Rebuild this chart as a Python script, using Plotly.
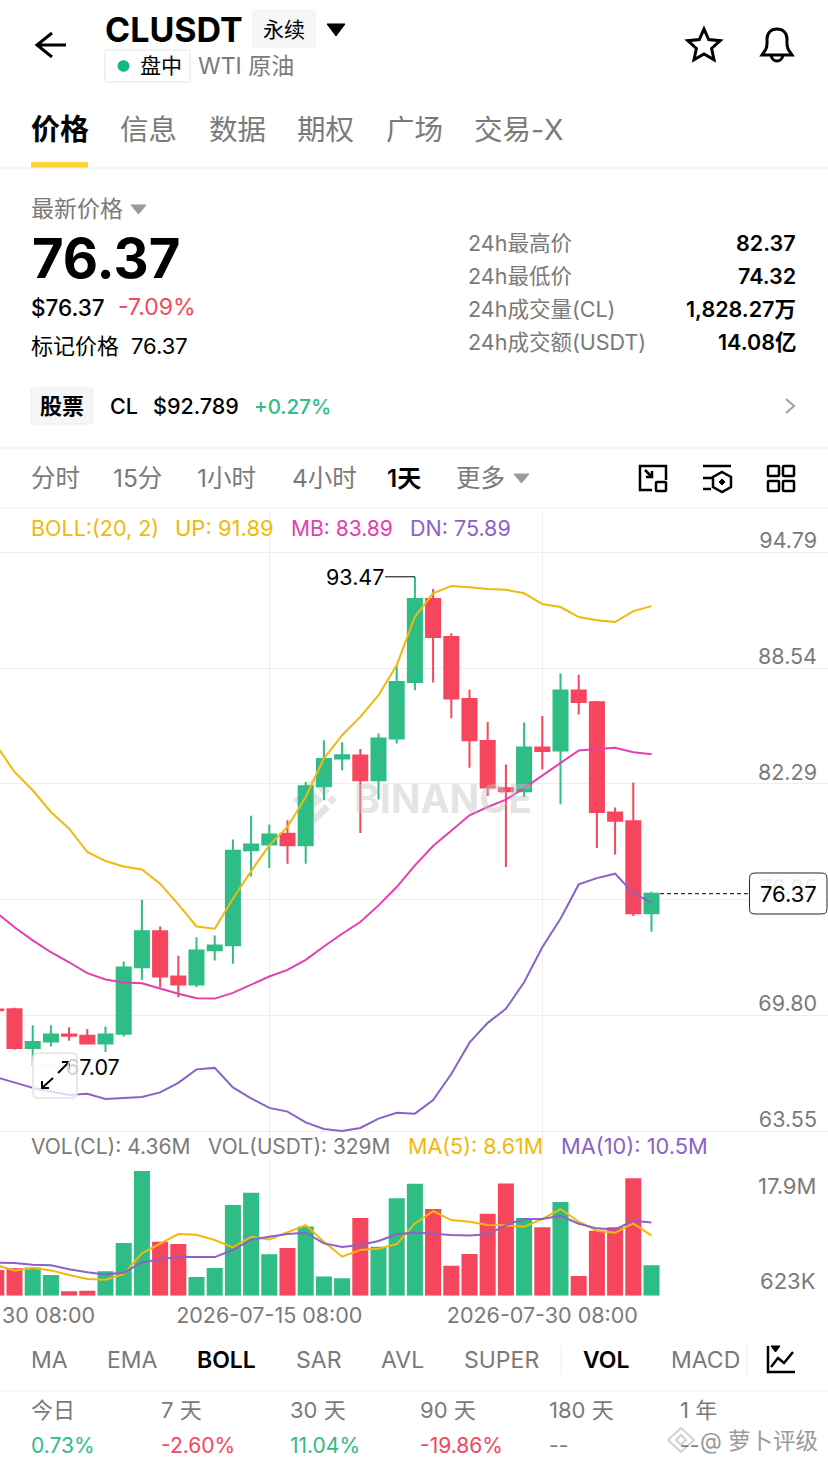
import re
import math
import pandas as pd
import plotly.graph_objects as go

W = 828
H = 1465
FONT = "Inter, 'Noto Sans CJK SC', sans-serif"
GREEN = "#2EBD85"
RED = "#F6465D"
YELLOW = "#F0B90B"
PINK = "#E33FAE"
PURPLE = "#8A62C8"
GRAY = "#7A7A7A"
LINE = "#EEEEEE"

dates = pd.date_range("2026-06-30 08:00", periods=37, freq="D")

opens = [70.12, 70.13, 68.05, 68.40, 68.77, 68.71, 68.28, 68.81, 72.40, 74.35, 71.90, 71.47, 73.32, 73.59, 78.71, 79.03,
         79.61, 78.99, 82.17, 83.66, 83.83, 82.49, 84.74, 87.79, 92.27, 90.22, 86.88, 84.61, 82.06, 81.90, 84.26, 84.10,
         87.34, 86.70, 80.75, 80.28, 75.32]
highs = [70.25, 70.21, 69.27, 69.27, 69.16, 69.07, 69.21, 72.71, 76.05, 74.60, 73.02, 74.02, 74.12, 79.30, 80.58, 80.10,
         80.33, 82.40, 84.65, 84.54, 84.18, 85.01, 88.70, 93.47, 92.81, 90.43, 87.39, 85.64, 83.34, 85.61, 85.96, 88.25,
         88.18, 86.77, 81.02, 82.37, 76.48]
lows = [69.95, 67.95, 67.07, 68.12, 68.44, 68.26, 67.83, 68.66, 71.72, 71.32, 70.78, 71.32, 72.77, 72.59, 77.30, 77.75,
        77.99, 77.99, 81.41, 83.03, 79.64, 81.45, 84.47, 87.35, 87.77, 85.84, 83.16, 81.64, 77.81, 81.59, 83.07, 81.19,
        86.04, 78.83, 78.49, 75.16, 74.32]
closes = [70.08, 68.05, 68.37, 68.77, 68.70, 68.28, 68.77, 72.39, 74.35, 71.90, 71.47, 73.31, 73.58, 78.69, 79.03, 79.57,
          78.99, 82.17, 83.64, 83.84, 82.49, 84.74, 87.79, 92.27, 90.22, 86.90, 84.65, 82.10, 81.90, 84.26, 84.07, 87.34,
          86.72, 80.78, 80.31, 75.32, 76.37]

boll_up = [84.38, 82.94, 81.95, 80.78, 79.88, 78.62, 78.13, 77.84, 77.68, 76.91, 75.79, 74.60, 74.48, 76.10, 77.59, 78.98,
           79.97, 81.59, 83.66, 84.92, 85.91, 87.08, 88.70, 91.31, 92.58, 92.97, 92.90, 92.81, 92.77, 92.58, 92.00, 91.84,
           91.30, 91.13, 91.03, 91.62, 91.89]
boll_mb = [75.36, 74.56, 73.85, 73.21, 72.67, 72.08, 71.74, 71.58, 71.54, 71.25, 70.97, 70.73, 70.71, 71.02, 71.47, 71.90,
           72.26, 72.80, 73.52, 74.21, 74.84, 75.74, 76.73, 77.90, 78.94, 79.78, 80.60, 81.05, 81.45, 82.07, 82.76, 83.45,
           84.10, 84.18, 84.24, 84.00, 83.89]
boll_dn = [66.47, 66.19, 65.89, 65.70, 65.51, 65.57, 65.29, 65.35, 65.40, 65.65, 66.16, 66.89, 66.97, 65.92, 65.33, 64.81,
           64.61, 64.03, 63.67, 63.57, 63.73, 64.23, 64.55, 64.50, 65.24, 66.64, 68.33, 69.40, 70.16, 71.59, 73.48, 75.02,
           76.87, 77.21, 77.45, 76.40, 75.89]

# volume in millions
volume = [3.68, 3.92, 4.06, 2.96, 0.623, 0.72, 3.49, 7.55, 17.9, 7.74, 7.41, 2.68, 3.97, 13.0, 14.77, 5.93,
          6.84, 9.94, 2.77, 2.49, 11.14, 7.03, 13.96, 16.06, 12.43, 4.30, 5.98, 11.76, 16.11, 11.14, 9.80, 13.43,
          2.82, 9.32, 9.80, 16.83, 4.36]
vol_ma5 = [4.40, 3.59, 3.97, 3.63, 2.96, 2.39, 2.29, 3.11, 6.07, 7.50, 8.84, 8.75, 7.98, 6.93, 8.46, 8.08,
           9.08, 10.13, 7.74, 5.59, 6.55, 6.74, 7.41, 10.37, 12.14, 10.85, 10.61, 10.13, 10.09, 9.89, 10.99, 12.43,
           10.61, 9.32, 9.03, 10.37, 8.61]
vol_ma10 = [4.73, 4.68, 4.45, 4.35, 3.78, 3.35, 3.06, 3.30, 4.78, 5.21, 5.59, 5.54, 5.54, 6.55, 8.03, 8.46,
            8.84, 9.03, 7.50, 6.98, 7.27, 7.84, 8.80, 9.08, 8.84, 8.70, 8.65, 8.80, 10.13, 10.99, 10.99, 11.47,
            10.32, 9.66, 9.51, 10.76, 10.5]

price_ticks = [94.79, 88.54, 82.29, 76.05, 69.80, 63.55]
price_labels = ["94.79", "88.54", "82.29", "76.05", "69.80", "63.55"]
date_ticks = ["2026-07-15 08:00", "2026-07-30 08:00"]
date_labels = ["2026-07-15 08:00", "2026-07-30 08:00"]

tabs = [("信息", 120), ("数据", 209), ("期权", 297), ("广场", 386), ("交易-X", 474)]
stats_left = [("24h最高价", 243, "82.37"), ("24h最低价", 276, "74.32"),
              ("24h成交量(CL)", 309, "1,828.27万"), ("24h成交额(USDT)", 342, "14.08亿")]
frames = [("分时", 31), ("15分", 113), ("1小时", 197), ("4小时", 292), ("更多", 456)]
indicators = [("MA", 31), ("EMA", 107), ("SAR", 296), ("AVL", 381), ("SUPER", 464), ("MACD", 671)]
periods = [("今日", "0.73%", GREEN, 31), ("7 天", "-2.60%", RED, 161), ("30 天", "11.04%", GREEN, 290),
           ("90 天", "-19.86%", RED, 420), ("180 天", "--", GRAY, 549), ("1 年", "--", GRAY, 680)]


def fx(x):
    return x / W


def fy(y):
    return 1 - y / H


def pth(d):
    # turn a pixel path into paper coordinates
    out = []
    is_x = True
    for tok in re.findall(r"[MLCZ]|-?[\d.]+", d):
        if tok in "MLCZ":
            out.append(tok)
            is_x = True
        else:
            out.append(f"{fx(float(tok)):.5f}" if is_x else f"{fy(float(tok)):.5f}")
            is_x = not is_x
    return " ".join(out)


def rrect(x0, y0, x1, y1, r):
    return (f"M {x0+r} {y0} L {x1-r} {y0} C {x1} {y0} {x1} {y0} {x1} {y0+r} L {x1} {y1-r} "
            f"C {x1} {y1} {x1} {y1} {x1-r} {y1} L {x0+r} {y1} C {x0} {y1} {x0} {y1} {x0} {y1-r} "
            f"L {x0} {y0+r} C {x0} {y0} {x0} {y0} {x0+r} {y0} Z")


shapes = []
annots = []


def draw(d, color="#000000", width=3, fill=None, layer="above"):
    shapes.append(dict(type="path", xref="paper", yref="paper", path=pth(d), layer=layer,
                       line=dict(color=color, width=width), fillcolor=fill))


def txt(s, x, y, size, color="#000000", anchor="left", weight=400):
    if anchor == "left":
        x = x - 1.5
    annots.append(dict(text=s, x=fx(x), y=fy(y), xref="paper", yref="paper",
                       xanchor=anchor, yanchor="middle", showarrow=False, borderpad=0,
                       font=dict(family=FONT, size=size, color=color, weight=weight)))


# header
draw("M 37 45 L 66 45 M 52 33 L 37 45 L 52 57")
txt("CLUSDT", 105, 29, 34, weight=700)
draw(rrect(253, 10, 315, 47, 5), color="#EFEFEF", width=1, fill="#F6F6F6")
txt("永续", 284, 29, 21, anchor="center")
draw("M 327 24 L 345 24 L 336 36 Z", width=1, fill="#000000")
draw(rrect(105, 50, 190, 82, 4), color="#E4E4E4", width=1, fill="#FFFFFF")
draw("M 118 66 C 118 59 129 59 129 66 C 129 73 118 73 118 66 Z", color="#10B981", width=1, fill="#10B981")
txt("盘中", 140, 66, 21)
txt("WTI 原油", 198, 66, 23, GRAY)
star = []
for i in range(10):
    r = 17 if i % 2 == 0 else 8
    a = -math.pi / 2 + i * math.pi / 5
    star.append(f"{'M' if i == 0 else 'L'} {704 + r * math.cos(a):.1f} {46 + r * math.sin(a):.1f}")
draw(" ".join(star) + " Z")
draw("M 764 52 C 768 48 767 42 767 39 C 767 33 771 29 777 29 C 783 29 787 33 787 39 C 787 42 786 48 790 52 "
     "L 792 55 L 762 55 Z M 771 55 C 772 63 782 63 783 55")

# tabs
txt("价格", 31, 129, 29, weight=600)
for s, x in tabs:
    txt(s, x, 129, 28.5, GRAY)
draw("M 31 162 L 88 162 L 88 168 L 31 168 Z", color="#FCD535", width=0, fill="#FCD535")
draw("M 0 168 L 828 168", color=LINE, width=1)

# price block
txt("最新价格", 31, 209, 23, GRAY)
draw("M 131 205 L 146 205 L 138.5 214 Z", color="#9A9A9A", width=1, fill="#9A9A9A")
txt("76.37", 32, 258, 54.5, weight=700)
txt("$76.37", 31, 307, 22.5, weight=500)
txt("-7.09%", 118, 307, 23, RED)
txt("标记价格", 31, 346, 22)
txt("76.37", 131, 346, 22)
for s, y, v in stats_left:
    txt(s, 468, y, 21.5, GRAY)
    txt(v, 796.5, y, 21.5, anchor="right", weight=600)
draw(rrect(31, 388, 93, 424, 4), color="#EFEFEF", width=1, fill="#F6F6F6")
txt("股票", 62, 406, 22, anchor="center", weight=600)
txt("CL", 110, 406, 21.5, weight=500)
txt("$92.789", 153, 406, 21.5, weight=500)
txt("+0.27%", 254, 406, 20.5, GREEN, weight=500)
draw("M 786 399 L 794 406 L 786 413", color="#A0A0A0", width=2)
draw("M 0 448 L 828 448", color=LINE, width=1)

# timeframe row
for s, x in frames:
    txt(s, x, 478, 24.5, GRAY)
txt("1天", 387, 478, 24, weight=600)
draw("M 514 474 L 529 474 L 521.5 483 Z", color="#9A9A9A", width=1, fill="#9A9A9A")
draw("M 652 490 L 640 490 L 640 466 L 666 466 L 666 480 M 645 470 L 652 477 M 652 471 L 652 477 L 646 477", width=2.5)
draw(rrect(656, 482, 666, 491, 1), width=2.5)
draw("M 703 466 L 731 466 M 703 478 L 712 478 M 703 489 L 711 489 M 722 472 L 731 477 L 731 487 L 722 492 "
     "L 713 487 L 713 477 Z", width=2.5)
draw("M 722 479 L 725 482 L 722 485 L 719 482 Z", width=1, fill="#000000")
for x0, y0 in [(768, 466), (783, 466), (768, 481), (783, 481)]:
    draw(rrect(x0, y0, x0 + 11, y0 + 10, 1), width=2.5)
draw("M 0 508 L 828 508", color=LINE, width=1)

# legends
txt("BOLL:(20, 2)", 31, 528, 21.5, YELLOW)
txt("UP: 91.89", 175, 528, 22, YELLOW)
txt("MB: 83.89", 291, 528, 21, PINK)
txt("DN: 75.89", 410, 528, 21.5, PURPLE)
txt("VOL(CL): 4.36M", 31, 1146, 21, GRAY)
txt("VOL(USDT): 329M", 208, 1146, 20.8, GRAY)
txt("MA(5): 8.61M", 408, 1146, 21.5, YELLOW)
txt("MA(10): 10.5M", 561, 1146, 21.8, PURPLE)

# watermark
draw("M 315 776 L 330 791 L 325 796 L 315 786 L 305 796 L 300 791 Z M 315 824 L 330 809 L 325 804 L 315 814 "
     "L 305 804 L 300 809 Z M 315 792 L 323 800 L 315 808 L 307 800 Z M 298 795 L 303 800 L 298 805 L 293 800 Z "
     "M 332 795 L 337 800 L 332 805 L 327 800 Z", color="#E4E4E4", width=0, fill="#E4E4E4", layer="below")
annots.append(dict(text="<b>BINANCE</b>", x=fx(443), y=fy(798), xref="paper", yref="paper", xanchor="center",
                   yanchor="middle", showarrow=False, font=dict(family=FONT, size=39, color="rgba(195,195,195,0.45)")))

# high / low markers
shapes.append(dict(type="line", xref="paper", yref="y", x0=fx(385), x1=fx(415), y0=93.47, y1=93.47,
                   line=dict(color="#000000", width=1)))
txt("93.47", 384.5, 577, 21.5, anchor="right")
shapes.append(dict(type="line", xref="paper", yref="y", x0=fx(33), x1=fx(62), y0=67.07, y1=67.07,
                   line=dict(color="#DDDDDD", width=1)))
draw(rrect(33, 1053, 77, 1098, 10), color="#E8E8E8", width=2, fill="rgba(255,255,255,0.75)")
txt('<span style="color:#CCCCCC">6</span>7.07', 121, 1067, 21.5, anchor="right")
draw("M 58 1073 L 69 1062 M 62 1062 L 69 1062 L 69 1069 M 53 1078 L 42 1088 M 49 1088 L 42 1088 L 42 1081", width=2)

# last price tag
shapes.append(dict(type="line", xref="paper", yref="y", x0=fx(660), x1=fx(749), y0=76.37, y1=76.37,
                   line=dict(color="#000000", width=1, dash="4px,3px")))
draw(rrect(749.5, 873, 827, 914, 10), color="#222222", width=1, fill="rgba(255,255,255,0.85)")
txt("76.37", 788.5, 894, 22, anchor="center")

# volume axis labels and clipped date label
annots.append(dict(text="17.9M", x=fx(818), y=17.9, xref="paper", yref="y2", yshift=-15, xanchor="right",
                   yanchor="middle", showarrow=False, font=dict(family=FONT, size=22, color=GRAY)))
annots.append(dict(text="623K", x=fx(818), y=0.623, xref="paper", yref="y2", yshift=10, xanchor="right",
                   yanchor="middle", showarrow=False, font=dict(family=FONT, size=22, color=GRAY)))
txt("30 08:00", 2, 1315, 21.5, GRAY)

# indicator row
for s, x in indicators:
    txt(s, x, 1360, 23, GRAY)
txt("BOLL", 197, 1360, 23, weight=600)
txt("VOL", 583, 1360, 23, weight=600)
draw("M 561 1345 L 561 1375", color=LINE, width=1)
draw("M 747 1345 L 747 1375", color=LINE, width=1)
draw("M 768 1346 L 768 1372 L 795 1372", width=2.5)
draw("M 771 1346 L 780 1346 L 775.5 1352 Z", width=1, fill="#000000")
draw("M 771 1367 L 778 1358 L 784 1363 L 793 1352", width=2.5)
draw("M 0 1391 L 828 1391", color=LINE, width=1)

# period stats
for name, val, col, x in periods:
    txt(name, x, 1410, 22, GRAY)
    txt(val, x, 1445, 21, col)
txt("@ 萝卜评级", 700, 1440, 22.5, "#9A9A9A")
draw("M 681 1428 L 694 1440 L 681 1452 L 668 1440 Z M 681 1435 L 686 1440 L 681 1445 L 676 1440 Z",
     color="#D0D0D0", width=2, fill="rgba(255,255,255,0.7)")

fig = go.Figure()
fig.add_trace(go.Candlestick(x=dates, open=opens, high=highs, low=lows, close=closes, xaxis="x", yaxis="y",
                             increasing=dict(line=dict(color=GREEN, width=2), fillcolor=GREEN),
                             decreasing=dict(line=dict(color=RED, width=2), fillcolor=RED),
                             whiskerwidth=0, hoverinfo="skip", showlegend=False))
for vals, col in [(boll_up, YELLOW), (boll_mb, PINK), (boll_dn, PURPLE)]:
    fig.add_trace(go.Scatter(x=dates, y=vals, mode="lines", line=dict(color=col, width=2), xaxis="x", yaxis="y",
                             hoverinfo="skip", showlegend=False))
bar_cols = [GREEN if c >= o else RED for o, c in zip(opens, closes)]
fig.add_trace(go.Bar(x=dates, y=volume, marker=dict(color=bar_cols, line=dict(width=0)), xaxis="x2", yaxis="y2",
                     hoverinfo="skip", showlegend=False))
for vals, col in [(vol_ma5, YELLOW), (vol_ma10, PURPLE)]:
    fig.add_trace(go.Scatter(x=dates, y=vals, mode="lines", line=dict(color=col, width=2), xaxis="x2", yaxis="y2",
                             hoverinfo="skip", showlegend=False))

day0 = pd.Timestamp("2026-07-15 08:00")
x_range = [day0 - pd.Timedelta(days=269.3 / 18.2), day0 + pd.Timedelta(days=(828 - 269.3) / 18.2)]
px_per_unit = 18.51

fig.update_layout(
    width=W, height=H, margin=dict(l=0, r=0, t=0, b=0), paper_bgcolor="#FFFFFF", plot_bgcolor="rgba(0,0,0,0)",
    font=dict(family=FONT), showlegend=False, bargap=0.12, boxgap=0.0, boxgroupgap=0.23,
    shapes=shapes, annotations=annots,
    xaxis=dict(domain=[0, 1], range=x_range, anchor="y", type="date", tickvals=date_ticks, showticklabels=False,
               showgrid=True, gridcolor=LINE, gridwidth=1, zeroline=False, ticks="", showline=False,
               rangeslider=dict(visible=False)),
    xaxis2=dict(domain=[0, 1], range=x_range, anchor="y2", type="date", tickvals=date_ticks, ticktext=date_labels,
                showgrid=True, gridcolor=LINE, gridwidth=1, zeroline=False, ticks="", ticklen=0, showline=False,
                ticklabelstandoff=5, tickfont=dict(family=FONT, size=21.5, color=GRAY)),
    # price panel runs past the 63.55 line so the inside label is not dropped
    yaxis=dict(domain=[fy(1160), fy(510)], range=[63.55 - (1160 - 1131.3) / px_per_unit, 94.79 + (552.3 - 510) / px_per_unit],
               anchor="x", side="right", tickvals=price_ticks, ticktext=price_labels, ticklabelposition="inside",
               ticklabelstandoff=8, ticklabelshift=-12, showgrid=True, gridcolor=LINE, gridwidth=1,
               zeroline=False, ticks="", showline=False, tickfont=dict(family=FONT, size=21.5, color=GRAY)),
    yaxis2=dict(domain=[fy(1295.7), fy(1131.3)], range=[0, 23.58], anchor="x2", side="right", tickvals=[0],
                showticklabels=False, showgrid=True, gridcolor=LINE, gridwidth=1, zeroline=False, ticks="",
                showline=False),
)

fig.write_html("out.html", config=dict(displayModeBar=False),
               post_script="document.body.style.margin='0';document.body.style.overflow='hidden';")
